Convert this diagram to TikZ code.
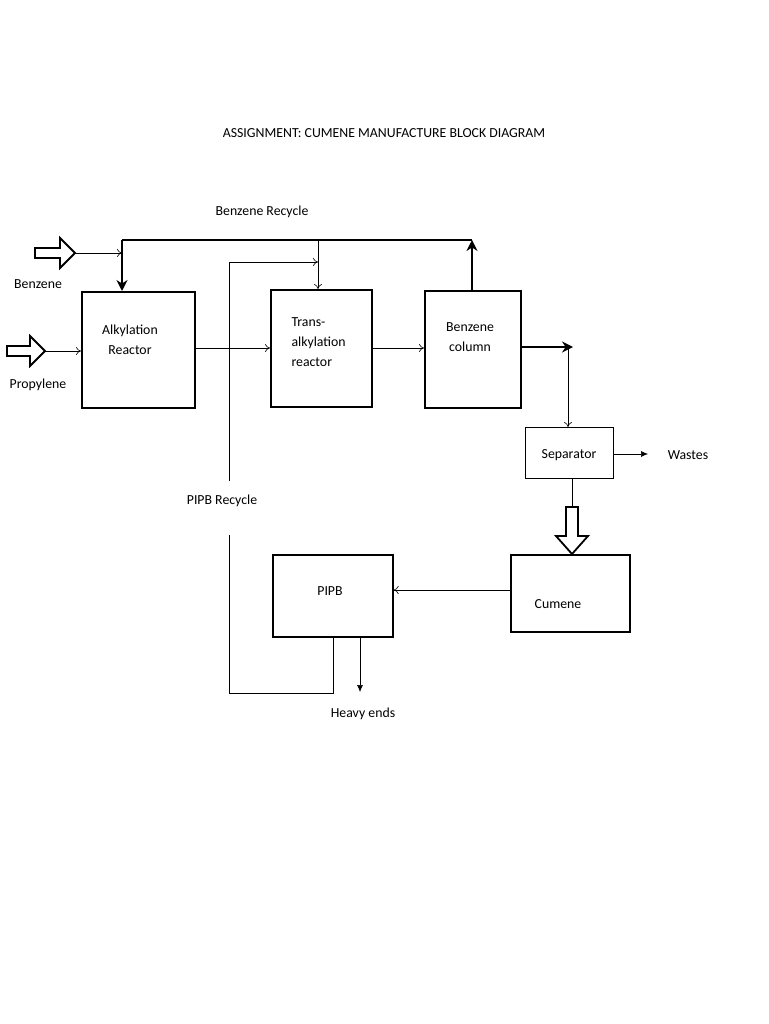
\documentclass[tikz,border=0pt]{standalone}
\usepackage{fontspec}
\setmainfont{Carlito}
\usetikzlibrary{arrows.meta}

\tikzset{
  blk/.style={draw,line width=1.6pt,anchor=north west,inner sep=0pt},
  thinblk/.style={draw,line width=0.6pt,anchor=north west,inner sep=0pt},
  flow/.style={line width=0.6pt,-{To[length=5pt,width=8pt]}},
  heavy/.style={line width=2.6pt,-{Stealth[length=11pt,width=11pt]}},
  lbl/.style={font=\fontsize{13.8}{20}\selectfont}
}
\newcommand{\hollowright}[3]{% x, y, length
  \draw[line width=1.8pt] (#1,#2-5) -- (#1+#3-15,#2-5) -- (#1+#3-15,#2-15) -- (#1+#3,#2)
    -- (#1+#3-15,#2+15) -- (#1+#3-15,#2+5) -- (#1,#2+5) -- cycle;}

\begin{document}
\begin{tikzpicture}[x=1pt,y=-1pt]
\useasboundingbox (0,0) rectangle (768,1024);

\node[lbl] (title) at (384,133) {ASSIGNMENT: CUMENE MANUFACTURE BLOCK DIAGRAM};

% blocks
\node[blk,minimum width=113pt,minimum height=116pt] (alk) at (81,291) {};
\node[lbl,align=center] (alkt) at (130,340) {Alkylation\\Reactor};
\node[blk,minimum width=101pt,minimum height=117pt] (trans) at (270,289) {};
\node[lbl,align=left,anchor=west] (transt) at (288,342) {Trans-\\alkylation\\reactor};
\node[blk,minimum width=96pt,minimum height=117pt] (col) at (424,290) {};
\node[lbl,align=center] (colt) at (470,337) {Benzene\\column};
\node[thinblk,minimum width=88pt,minimum height=51pt] (sep) at (525,427) {};
\node[lbl] (sept) at (569,455) {Separator};
\node[blk,minimum width=119pt,minimum height=77pt] (cum) at (510,554) {};
\node[lbl] (cumt) at (558,604) {Cumene};
\node[blk,minimum width=120pt,minimum height=82pt] (pipb) at (272,554) {};
\node[lbl] (pipbt) at (330,591) {PIPB};

% labels
\node[lbl] (benz) at (38,284) {Benzene};
\node[lbl] (prop) at (38,385) {Propylene};
\node[lbl] (brec) at (262,212) {Benzene Recycle};
\node[lbl] (prec) at (222,501) {PIPB Recycle};
\node[lbl] (wast) at (688,455) {Wastes};
\node[lbl] (heavy) at (363,714) {Heavy ends};

% feeds
\hollowright{35}{253}{40}
\hollowright{7}{351}{38}
\coordinate (bin) at (75,253);
\coordinate (pin) at (45,351);
\coordinate (rl) at (122,240);
\coordinate (rr) at (472,240);
\draw[flow] (bin) -- (rl |- bin);
\draw[flow] (pin) -- (alk.west |- pin);

% benzene recycle
\draw[heavy] (col.north -| rr) -- (rr);
\draw[line width=2.6pt] (rr) -- (rl);
\draw[heavy] (rl) -- (alk.north -| rl);
\coordinate (tdrop) at (318,240);
\draw[flow] (tdrop) -- (trans.north -| tdrop);

% main line
\draw[flow] (alk.east |- 0,348) -- (trans.west |- 0,348);
\draw[flow] (trans.east |- 0,348) -- (col.west |- 0,348);
\coordinate (cout) at (573,347);
\draw[heavy] (col.east |- cout) -- (cout);
\draw[flow] (568,347) -- (sep.north -| 568,0);
\draw[flow,-{Latex[length=7pt,width=6pt]}] (sep.east |- 0,454) -- (648,454);

% separator to cumene
\coordinate (sdown) at (572,507);
\draw[line width=0.6pt] (sep.south -| sdown) -- (sdown);
\draw[line width=1.8pt] (566,507) -- (578,507) -- (578,536) -- (588,536) -- (572,554)
  -- (556,536) -- (566,536) -- cycle;

% cumene to PIPB
\draw[flow] (cum.west |- 0,590) -- (pipb.east |- 0,590);

% PIPB outlets and recycle
\coordinate (r1) at (333,693);
\coordinate (r2) at (229,693);
\coordinate (r3) at (229,535);
\coordinate (r4) at (229,481);
\coordinate (r5) at (229,262);
\draw[line width=0.6pt] (pipb.south -| r1) -- (r1) -- (r2) -- (r3);
\draw[flow] (r4) -- (r5) -- (tdrop |- r5);
\draw[flow,-{Latex[length=7pt,width=6pt]}] (360,636) -- (360,692);
\end{tikzpicture}
\end{document}
